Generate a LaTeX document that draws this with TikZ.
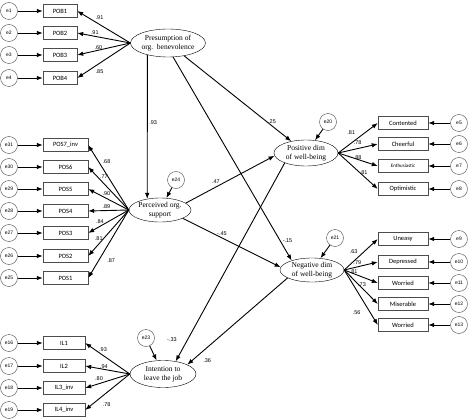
\documentclass[tikz,border=0pt]{standalone}
\usepackage{fontspec}
\setmainfont{Liberation Serif}
\newfontfamily\boxfont{Carlito}
\newfontfamily\numfont{Liberation Sans}
\usetikzlibrary{shapes.geometric,arrows.meta}

\begin{document}
\begin{tikzpicture}[x=1pt,y=-1pt,
  lat/.style={draw, ellipse, align=center, inner sep=0pt, font=\fontsize{7.5}{9}\selectfont},
  ind/.style={draw=black!70, minimum width=#1, minimum height=13pt, inner sep=0pt, font=\boxfont\fontsize{6.5}{7}\selectfont},
  ind/.default=34pt,
  err/.style={draw=black!70, circle, minimum size=17pt, inner sep=0pt, font=\numfont\fontsize{5}{6}\selectfont},
  arr/.style={-{Latex[length=6pt,width=4.5pt]}, line width=0.9pt},
  lbl/.style={font=\numfont\fontsize{5.5}{6}\selectfont, inner sep=0.5pt}]
\useasboundingbox (0,0) rectangle (474,420);

% latent variables
\node[lat, minimum width=72pt, minimum height=28pt] (pres) at (168,43) {Presumption of\\org.\ \ benevolence};
\node[lat, minimum width=62pt, minimum height=24pt] (perc) at (160,210) {Perceived org.\\support};
\node[lat, minimum width=64pt, minimum height=26pt] (posw) at (306,153) {Positive dim\\of well-being};
\node[lat, minimum width=64pt, minimum height=24pt] (negw) at (312,270) {Negative dim\\of well-being};
\node[lat, minimum width=66pt, minimum height=27pt] (intl) at (163,374) {Intention to\\leave the job};

% indicators, left
\node[ind] (pob1) at (60,11) {POB1};
\node[ind] (pob2) at (60,33) {POB2};
\node[ind] (pob3) at (60,55) {POB3};
\node[ind] (pob4) at (60,78) {POB4};

\node[ind=45pt] (pos7) at (65.5,145) {POS7\_inv};
\node[ind=45pt] (pos6) at (65.5,167) {POS6};
\node[ind=45pt] (pos5) at (65.5,189) {POS5};
\node[ind=45pt] (pos4) at (65.5,211) {POS4};
\node[ind=45pt] (pos3) at (65.5,233) {POS3};
\node[ind=45pt] (pos2) at (65.5,256) {POS2};
\node[ind=45pt] (pos1) at (65.5,278) {POS1};

\node[ind=42pt] (il1) at (64,343) {IL1};
\node[ind=42pt] (il2) at (64,366) {IL2};
\node[ind=42pt] (il3) at (64,388) {IL3\_inv};
\node[ind=42pt] (il4) at (64,410) {IL4\_inv};

% indicators, right
\node[ind=50pt] (con) at (403,123) {Contented};
\node[ind=50pt] (che) at (403,144) {Cheerful};
\node[ind=50pt, font=\boxfont\fontsize{5}{6}\selectfont] (ent) at (403,166) {Enthusiastic};
\node[ind=50pt] (opt) at (403,189) {Optimistic};

\node[ind=50pt] (une) at (403,239) {Uneasy};
\node[ind=50pt] (dep) at (403,262) {Depressed};
\node[ind=50pt] (wo1) at (403,283) {Worried};
\node[ind=50pt] (mis) at (403,304) {Miserable};
\node[ind=50pt] (wo2) at (403,325) {Worried};

% error terms
\node[err] (e1) at (9,11) {e1};
\node[err] (e2) at (9,33) {e2};
\node[err] (e3) at (9,55) {e3};
\node[err] (e4) at (9,78) {e4};
\node[err] (e31) at (9,145) {e31};
\node[err] (e30) at (9,167) {e30};
\node[err] (e29) at (9,189) {e29};
\node[err] (e28) at (9,211) {e28};
\node[err] (e27) at (9,233) {e27};
\node[err] (e26) at (9,256) {e26};
\node[err] (e25) at (9,278) {e25};
\node[err] (e16) at (9,343) {e16};
\node[err] (e17) at (9,366) {e17};
\node[err] (e18) at (9,388) {e18};
\node[err] (e19) at (9,410) {e19};

\node[err] (e5) at (459,123) {e5};
\node[err] (e6) at (459,144) {e6};
\node[err] (e7) at (459,166) {e7};
\node[err] (e8) at (459,189) {e8};
\node[err] (e9) at (459,239) {e9};
\node[err] (e10) at (459,262) {e10};
\node[err] (e11) at (459,283) {e11};
\node[err] (e12) at (459,304) {e12};
\node[err] (e13) at (459,325) {e13};

\node[err] (e24) at (176,180) {e24};
\node[err] (e20) at (328,122) {e20};
\node[err] (e21) at (335,238) {e21};
\node[err] (e23) at (146,338) {e23};

% error arrows
\draw[arr] (e1) -- (pob1);
\draw[arr] (e2) -- (pob2);
\draw[arr] (e3) -- (pob3);
\draw[arr] (e4) -- (pob4);
\draw[arr] (e31) -- (pos7);
\draw[arr] (e30) -- (pos6);
\draw[arr] (e29) -- (pos5);
\draw[arr] (e28) -- (pos4);
\draw[arr] (e27) -- (pos3);
\draw[arr] (e26) -- (pos2);
\draw[arr] (e25) -- (pos1);
\draw[arr] (e16) -- (il1);
\draw[arr] (e17) -- (il2);
\draw[arr] (e18) -- (il3);
\draw[arr] (e19) -- (il4);
\draw[arr] (e5) -- (con);
\draw[arr] (e6) -- (che);
\draw[arr] (e7) -- (ent);
\draw[arr] (e8) -- (opt);
\draw[arr] (e9) -- (une);
\draw[arr] (e10) -- (dep);
\draw[arr] (e11) -- (wo1);
\draw[arr] (e12) -- (mis);
\draw[arr] (e13) -- (wo2);
\draw[arr] (e24) -- (perc);
\draw[arr] (e20) -- (posw);
\draw[arr] (e21) -- (negw);
\draw[arr] (e23) -- (intl);

% loadings
\draw[arr] (pres.west) -- (pob1.east) node[lbl, pos=.58, above=4pt] {.91};
\draw[arr] (pres.west) -- (pob2.east) node[lbl, pos=.67, above=0.5pt] {.91};
\draw[arr] (pres.west) -- (pob3.east) node[lbl, pos=.6, above=0pt] {.60};
\draw[arr] (pres.west) -- (pob4.east) node[lbl, pos=.58, below=5pt] {.85};

\draw[arr] (perc.west) -- (pos7.east) node[lbl, pos=.74, right=3pt] {.68};
\draw[arr] (perc.west) -- (pos6.east) node[lbl, pos=.77, right=1.5pt] {.77};
\draw[arr] (perc.west) -- (pos5.east) node[lbl, pos=.55, above=2pt] {.90};
\draw[arr] (perc.west) -- (pos4.east) node[lbl, pos=.55, above=1pt] {.89};
\draw[arr] (perc.west) -- (pos3.east) node[lbl, pos=.71, above=2pt] {.84};
\draw[arr] (perc.west) -- (pos2.east) node[lbl, pos=.74, above=3pt] {.81};
\draw[arr] (perc.west) -- (pos1.east) node[lbl, pos=.75, right=8pt] {.87};

\draw[arr] (intl.west) -- (il1.east) node[lbl, pos=.6, above=3pt] {.93};
\draw[arr] (intl.west) -- (il2.east) node[lbl, pos=.58, above=0pt] {.94};
\draw[arr] (intl.west) -- (il3.east) node[lbl, pos=.69, above=2pt] {.80};
\draw[arr] (intl.west) -- (il4.east) node[lbl, pos=.85, right=10pt] {.78};

\draw[arr] (posw.east) -- (con.west) node[lbl, pos=.33, above=8pt] {.81};
\draw[arr] (posw.east) -- (che.west) node[lbl, pos=.49, above=3pt] {.78};
\draw[arr] (posw.east) -- (ent.west) node[lbl, pos=.49, above=-1pt] {.88};
\draw[arr] (posw.east) -- (opt.west) node[lbl, pos=.64, above=1pt] {.81};

\draw[arr] (negw.east) -- (une.west) node[lbl, pos=.28, above=7pt] {.63};
\draw[arr] (negw.east) -- (dep.west) node[lbl, pos=.39, above=1pt] {.79};
\draw[arr] (negw.east) -- (wo1.west) node[lbl, pos=.28, above=-1pt] {.81};
\draw[arr] (negw.east) -- (mis.west) node[lbl, pos=.53, above=1pt] {.73};
\draw[arr] (negw.east) -- (wo2.west) node[lbl, pos=.78, left=9pt] {.56};

% structural paths
\draw[arr] (pres.210) -- (perc.139) node[lbl, pos=.47, right=1pt] {.93};
\draw[arr] (pres) -- (posw) node[lbl, pos=.82, above=1pt] {.25};
\draw[arr] (pres.290) -- (negw.155) node[lbl, pos=.9, right=2pt] {-.15};
\draw[arr] (perc.15) -- (posw.185) node[lbl, pos=.34, above=3pt] {.47};
\draw[arr] (perc.340) -- (negw.175) node[lbl, pos=.4, above=1pt] {-.45};
\draw[arr] (posw.205) -- (intl.45) node[lbl, pos=.89, left=10pt] {-.33};
\draw[arr] (negw.198) -- (intl.21) node[lbl, pos=.85, anchor=north west, yshift=-6pt] {.36};
\end{tikzpicture}
\end{document}
